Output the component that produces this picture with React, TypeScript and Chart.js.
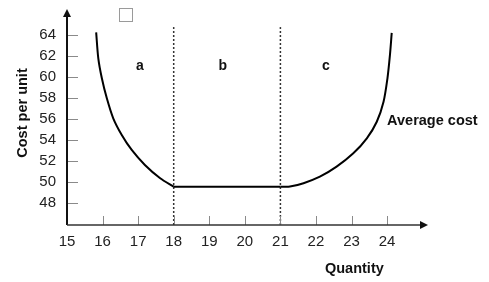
import React, { useEffect, useRef } from "react";
import { Chart, registerables } from "chart.js";

Chart.register(...registerables);

// Average cost curve (Quantity, Cost per unit)
// falling branch (region a)
const leftX = [15.82, 15.88, 15.98, 16.12, 16.3, 16.54, 16.82, 17.19, 17.62, 18.0];
const leftY = [64.26, 61.78, 59.88, 57.97, 56.07, 54.48, 53.05, 51.62, 50.35, 49.55];
// flat part (region b)
const flatX = [18, 21];
const flatY = [49.55, 49.55];
// rising branch (region c)
const rightX = [21, 21.27, 21.65, 22.11, 22.58, 23.05, 23.43, 23.71, 23.9, 24.01, 24.08, 24.13];
const rightY = [49.55, 49.56, 49.88, 50.5, 51.46, 52.73, 54.16, 55.74, 57.65, 59.88, 62.1, 64.2];

// Dotted region boundaries
const boundaryX = [18, 21];
const boundaryY = [45.9, 64.76];

// Tick labels
const xTicks = [15, 16, 17, 18, 19, 20, 21, 22, 23, 24];
const yTicks = [48, 50, 52, 54, 56, 58, 60, 62, 64];

// Region labels
const regionLabels = ["a", "b", "c"];
const regionX = [17.05, 19.38, 22.28];
const regionY = 61.0;

const FONT = "'Liberation Sans', Arial, Helvetica, sans-serif";

const zeroPad = (s: any) => {
  s.paddingTop = 0;
  s.paddingBottom = 0;
  s.paddingLeft = 0;
  s.paddingRight = 0;
};

const decorPlugin = {
  id: "decor",
  afterDraw(chart: any) {
    const ctx = chart.ctx;
    const xs = chart.scales.x;
    const ys = chart.scales.y;
    const area = chart.chartArea;
    const ox = xs.getPixelForValue(xs.min);
    const oy = ys.getPixelForValue(ys.min);
    ctx.save();
    // tick marks (inward)
    ctx.strokeStyle = "#8a8a8a";
    ctx.lineWidth = 1;
    xTicks.forEach((v) => {
      const px = Math.round(xs.getPixelForValue(v)) + 0.5;
      ctx.beginPath();
      ctx.moveTo(px, oy);
      ctx.lineTo(px, oy - 9);
      ctx.stroke();
    });
    yTicks.forEach((v) => {
      const py = Math.round(ys.getPixelForValue(v)) + 0.5;
      ctx.beginPath();
      ctx.moveTo(ox, py);
      ctx.lineTo(ox + 11, py);
      ctx.stroke();
    });
    // axes with arrows
    ctx.strokeStyle = "#111";
    ctx.fillStyle = "#111";
    ctx.lineWidth = 2;
    ctx.beginPath();
    ctx.moveTo(ox, oy);
    ctx.lineTo(ox, area.top + 5);
    ctx.stroke();
    ctx.beginPath();
    ctx.moveTo(ox, area.top);
    ctx.lineTo(ox - 4, area.top + 8);
    ctx.lineTo(ox + 4, area.top + 8);
    ctx.closePath();
    ctx.fill();
    ctx.strokeStyle = "#333";
    ctx.lineWidth = 1.5;
    ctx.beginPath();
    ctx.moveTo(ox, oy);
    ctx.lineTo(area.right - 5, oy);
    ctx.stroke();
    ctx.fillStyle = "#111";
    ctx.beginPath();
    ctx.moveTo(area.right, oy);
    ctx.lineTo(area.right - 8, oy - 4);
    ctx.lineTo(area.right - 8, oy + 4);
    ctx.closePath();
    ctx.fill();
    // small square
    ctx.strokeStyle = "#9a9a9a";
    ctx.lineWidth = 1;
    ctx.strokeRect(119.5, 8.5, 13, 13);
    // texts
    ctx.fillStyle = "#111";
    ctx.font = `bold 14px ${FONT}`;
    ctx.textBaseline = "middle";
    ctx.textAlign = "center";
    regionLabels.forEach((t, i) => {
      ctx.fillText(t, xs.getPixelForValue(regionX[i]), ys.getPixelForValue(regionY));
    });
    ctx.font = `bold 14.5px ${FONT}`;
    ctx.textAlign = "left";
    ctx.fillText("Average cost", xs.getPixelForValue(24.0), ys.getPixelForValue(55.8));
    ctx.textAlign = "center";
    ctx.fillText("Quantity", xs.getPixelForValue(23.08), 269);
    ctx.save();
    ctx.translate(23, 113);
    ctx.rotate(-Math.PI / 2);
    ctx.fillText("Cost per unit", 0, 0);
    ctx.restore();
    ctx.restore();
  },
};

const curveStyle = {
  borderColor: "#000",
  borderWidth: 2,
  pointRadius: 0,
  fill: false,
};

export default function App() {
  const ref = useRef<HTMLCanvasElement | null>(null);
  useEffect(() => {
    if (!ref.current) return;
    const chart = new Chart(ref.current, {
      type: "line",
      data: {
        datasets: [
          {
            label: "Average cost (falling)",
            data: leftX.map((x, i) => ({ x, y: leftY[i] })),
            ...curveStyle,
            tension: 0.3,
          },
          {
            label: "Average cost (flat)",
            data: flatX.map((x, i) => ({ x, y: flatY[i] })),
            ...curveStyle,
            tension: 0,
          },
          {
            label: "Average cost (rising)",
            data: rightX.map((x, i) => ({ x, y: rightY[i] })),
            ...curveStyle,
            tension: 0.3,
          },
          ...boundaryX.map((bx) => ({
            label: "boundary " + bx,
            data: boundaryY.map((y) => ({ x: bx, y })),
            borderColor: "#333",
            borderWidth: 1.5,
            borderDash: [2, 2],
            pointRadius: 0,
            fill: false,
          })),
        ],
      },
      options: {
        responsive: false,
        animation: false,
        layout: { padding: { top: 9, right: 61, left: 0, bottom: 0 } },
        plugins: { legend: { display: false }, tooltip: { enabled: false } },
        scales: {
          x: {
            type: "linear",
            min: 15,
            max: 25.15,
            grid: { display: false, drawTicks: false },
            border: { display: false },
            afterBuildTicks: (s: any) => {
              s.ticks = xTicks.map((value) => ({ value }));
            },
            afterFit: (s: any) => {
              s.height = 57;
              zeroPad(s);
            },
            ticks: {
              padding: 8,
              color: "#222",
              font: { family: FONT, size: 15 },
              maxRotation: 0,
              autoSkip: false,
            },
          },
          y: {
            type: "linear",
            min: 45.9,
            max: 66.48,
            grid: { display: false, drawTicks: false },
            border: { display: false },
            afterBuildTicks: (s: any) => {
              s.ticks = yTicks.map((value) => ({ value }));
            },
            afterFit: (s: any) => {
              s.width = 67;
              zeroPad(s);
            },
            ticks: {
              padding: 11,
              color: "#222",
              font: { family: FONT, size: 15 },
              autoSkip: false,
            },
          },
        },
      },
      plugins: [decorPlugin],
    });
    return () => chart.destroy();
  }, []);
  return (
    <div style={{ position: "fixed", left: 0, top: 0, width: 489, height: 282, background: "#fff" }}>
      <canvas ref={ref} width={489} height={282} style={{ display: "block" }} />
    </div>
  );
}
